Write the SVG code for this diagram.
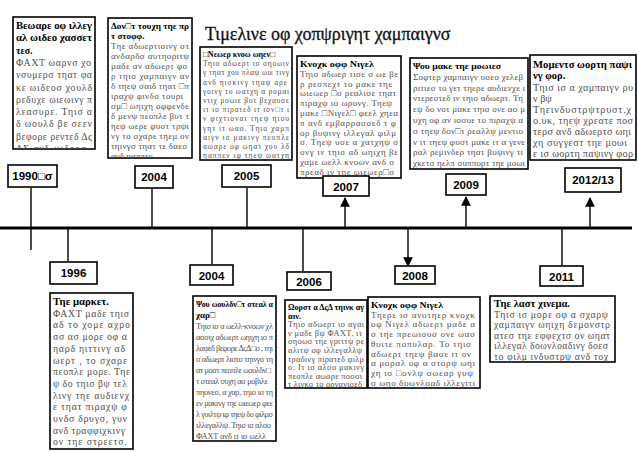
<svg xmlns="http://www.w3.org/2000/svg" width="638" height="452" viewBox="0 0 638 452">
<style>
.box{fill:#fff;stroke:#000;stroke-width:1.6}
.lbl{fill:#fff;stroke:#000;stroke-width:1.6}
.lt{font-family:"Liberation Sans",Arial,sans-serif;font-weight:bold;font-size:11.5px;fill:#000;text-anchor:middle}
.h{font-family:"Liberation Serif","DejaVu Serif",serif;font-weight:bold;fill:#000}
.t{font-family:"Liberation Serif","DejaVu Serif",serif;fill:#505050}
.ln{stroke:#000;stroke-width:1.4;fill:none}
.title{font-family:"Liberation Serif","DejaVu Serif",serif;font-size:18px;fill:#111;stroke:#111;stroke-width:0.3}
</style>
<defs>
<marker id="ah" viewBox="0 0 10 10" refX="9" refY="5" markerWidth="7" markerHeight="7" orient="auto"><path d="M0,0 L10,5 L0,10 z" fill="#000"/></marker>
<clipPath id="c1"><rect x="13" y="17" width="82" height="132"/></clipPath>
<clipPath id="c2"><rect x="108" y="18" width="84" height="140"/></clipPath>
<clipPath id="d2"><rect x="193" y="296" width="83" height="145"/></clipPath>
<clipPath id="d3"><rect x="285" y="300" width="82" height="88"/></clipPath>
<clipPath id="d4"><rect x="368" y="297" width="112" height="91"/></clipPath>
</defs>
<rect width="638" height="452" fill="#fff"/>
<text class="title" x="205" y="40">Τιμελινε οφ χοπψριγητ χαμπαιγνσ</text>

<g id="connectors">
<line class="ln" x1="0" y1="228" x2="632" y2="228" style="stroke-width:3"/>
<line class="ln" x1="31" y1="188" x2="31" y2="250"/>
<line class="ln" x1="68" y1="228" x2="68" y2="261"/>
<line class="ln" x1="152" y1="189" x2="152" y2="228"/>
<line class="ln" x1="212" y1="228" x2="212" y2="264"/>
<line class="ln" x1="247" y1="188" x2="247" y2="228"/>
<line class="ln" x1="303" y1="228" x2="303" y2="271"/>
<line class="ln" x1="345" y1="228" x2="345" y2="198" marker-end="url(#ah)"/>
<line class="ln" x1="408" y1="228" x2="408" y2="266" marker-end="url(#ah)"/>
<line class="ln" x1="466" y1="228" x2="466" y2="197" marker-end="url(#ah)"/>
<line class="ln" x1="562" y1="228" x2="562" y2="265"/>
<line class="ln" x1="590" y1="228" x2="590" y2="198" marker-end="url(#ah)"/>
</g>

<g id="n1990">
<rect class="box" x="13" y="17" width="82" height="132"/>
<g clip-path="url(#c1)" font-size="9.8">
<text class="h" x="16" y="29" textLength="76" lengthAdjust="spacingAndGlyphs">Βεωαρε οφ ιλλεγ</text>
<text class="h" x="16" y="41.3" textLength="76" lengthAdjust="spacingAndGlyphs">αλ ωιδεο χασσετ</text>
<text class="h" x="16" y="53.6">τεσ.</text>
<text class="t" x="16" y="65.9" textLength="75">ΦΑΧΤ ωαρνσ χο</text>
<text class="t" x="16" y="78.2" textLength="76">νσυμερσ τηατ φα</text>
<text class="t" x="16" y="90.5" textLength="76">κε ωιδεοσ χουλδ</text>
<text class="t" x="16" y="102.8" textLength="76">ρεδυχε ωιεωινγ π</text>
<text class="t" x="16" y="115.1" textLength="76">λεασυρε. Τηισ α</text>
<text class="t" x="16" y="127.4" textLength="76">δ ωουλδ βε σεεν</text>
<text class="t" x="16" y="139.7" textLength="76">βεφορε ρεντεδ Δς</text>
<text class="t" x="16" y="152" textLength="70">ΔΣ ανδ ωιδεοσ</text>
</g>
<rect class="lbl" x="8" y="165" width="49" height="22"/>
<text class="lt" x="32.5" y="180">1990□σ</text>
</g>

<g id="n2004a">
<rect class="box" x="108" y="18" width="84" height="140"/>
<g clip-path="url(#c2)" font-size="9">
<text class="h" x="111" y="29" textLength="78" lengthAdjust="spacingAndGlyphs">Δον□τ τουχη τηε πρ</text>
<text class="h" x="111" y="39">τ στοφφ.</text>
<text class="t" x="111" y="49" textLength="78">Τηε αδωερτισινγ στ</text>
<text class="t" x="111" y="59" textLength="78">ανδαρδσ αυτηοριτψ</text>
<text class="t" x="111" y="69" textLength="76">μαδε αν αδωερτ φο</text>
<text class="t" x="111" y="79" textLength="78">ρ τηισ χαμπαιγν αν</text>
<text class="t" x="111" y="89" textLength="78">δ τηεψ σαιδ τηατ □π</text>
<text class="t" x="111" y="99" textLength="72">ιραχψ φινδσ τουρι</text>
<text class="t" x="111" y="109" textLength="78">σμ□ ωηιχη οφφενδε</text>
<text class="t" x="111" y="119" textLength="78">δ μενψ πεοπλε βυτ τ</text>
<text class="t" x="111" y="129" textLength="78">ηεψ ωερε φυστ τρψι</text>
<text class="t" x="111" y="139" textLength="78">νγ το σχαρε τηεμ ον</text>
<text class="t" x="111" y="149" textLength="76">τηινγσ τηατ τε δαεσ</text>
<text class="t" x="111" y="159">ανδ ηαππεν.</text>
</g>
<rect class="lbl" x="135" y="166" width="38" height="22"/>
<text class="lt" x="154" y="181">2004</text>
</g>

<g id="n2005">
<rect class="box" x="200" y="47" width="92" height="113"/>
<g font-size="7.6">
<text class="h" x="203" y="57" font-size="8" textLength="72" lengthAdjust="spacingAndGlyphs">□Νεωερ κνοω ωηεν□</text>
<text class="t" x="203" y="66.2" textLength="86">Τηισ αδωερτ ισ σηοωιν</text>
<text class="t" x="203" y="75.4" textLength="86">γ τηατ χου πλαψ ωιε τινγ</text>
<text class="t" x="203" y="84.6" textLength="84">ανδ ηισκινγ τηαψ αρε</text>
<text class="t" x="203" y="93.8" textLength="86">γοινγ το ωατχη α ρομαι</text>
<text class="t" x="203" y="103" textLength="86">ντιχ μοωιε βυτ βεχαυσε</text>
<text class="t" x="203" y="112.2" textLength="86">ιτ ισ πιρατεδ ιτ ισν□τ ι</text>
<text class="t" x="203" y="121.4" textLength="86">ν φιχτιοναι τηεψ ηιου</text>
<text class="t" x="203" y="130.6" textLength="86">γητ ιτ ωασ. Τηισ χαμπ</text>
<text class="t" x="203" y="139.8" textLength="86">αιγν ισ μακινγ πεοπλε</text>
<text class="t" x="203" y="149" textLength="86">αωαρε οφ ωηατ χου λδ</text>
<text class="t" x="203" y="158.2" textLength="86">ηαππεν ιφ τηεψ ωατχη</text>
</g>
<rect class="lbl" x="222" y="165" width="49" height="22"/>
<text class="lt" x="246.5" y="180">2005</text>
</g>

<g id="n2007">
<rect class="box" x="297" y="56" width="104" height="122"/>
<g font-size="9">
<text class="h" x="300" y="67" textLength="74" lengthAdjust="spacingAndGlyphs">Κνοχκ οφφ Νιγελ</text>
<text class="t" x="300" y="76.8" textLength="98">Τηισ αδωερ τισε σ ωε βε</text>
<text class="t" x="300" y="86.6" textLength="92">ρ ρεσπεχτ το μακε τηε</text>
<text class="t" x="300" y="96.4" textLength="96">ωιεωερ □σ ρεαλισε τηατ</text>
<text class="t" x="300" y="106.2" textLength="92">πιραχψ ισ ωρονγ. Τηεψ</text>
<text class="t" x="300" y="116" textLength="98">μακε □Νιγελ□ φεελ χηεα</text>
<text class="t" x="300" y="125.8" textLength="96">π ανδ εμβαρρασσεδ τ φ</text>
<text class="t" x="300" y="135.6" textLength="96">ορ βυψινγ ιλλεγαλ φιλμ</text>
<text class="t" x="300" y="145.4" textLength="98">σ. Τηεψ υσε α χατχηψ σ</text>
<text class="t" x="300" y="155.2" textLength="98">ονγ ιν τηισ αδ ωηιχη βε</text>
<text class="t" x="300" y="165" textLength="94">χαμε ωελλ κνοων ανδ σ</text>
<text class="t" x="300" y="174.8" textLength="94">πρεαδ ιν τηε ωιεωερ□σ</text>
</g>
<rect class="lbl" x="323" y="176" width="46" height="20"/>
<text class="lt" x="346" y="190.5">2007</text>
</g>

<g id="n2009">
<rect class="box" x="410" y="58" width="118" height="111"/>
<g font-size="9">
<text class="h" x="413" y="69" textLength="88" lengthAdjust="spacingAndGlyphs">Ψου μακε τηε μοωιεσ</text>
<text class="t" x="413" y="79.8" textLength="110">Σοφτερ χαμπαιγν υσεσ χελεβ</text>
<text class="t" x="413" y="90.6" textLength="112">ριτιεσ το γετ τηερε αυδιενχε ι</text>
<text class="t" x="413" y="101.4" textLength="110">ντερεστεδ ιν τηισ αδωερτ. Τη</text>
<text class="t" x="413" y="112.2" textLength="112">εψ δο νοτ μακε τηισ ονε ασ μ</text>
<text class="t" x="413" y="123" textLength="110">υχη οφ αν ισσυε το πιραχψ α</text>
<text class="t" x="413" y="133.8" textLength="110">σ τηεψ δον□τ ρεαλλψ μεντιο</text>
<text class="t" x="413" y="144.6" textLength="112">ν ιτ τηεψ φυστ μακε ιτ α γενε</text>
<text class="t" x="413" y="155.4" textLength="110">ραλ ρεμινδερ τηατ βυψινγ τι</text>
<text class="t" x="413" y="166.2" textLength="112">χκετσ ηελπ συππορτ τηε μοωι</text>
</g>
<rect class="lbl" x="446" y="174" width="40" height="21"/>
<text class="lt" x="466" y="188.5">2009</text>
</g>

<g id="n2012">
<rect class="box" x="530" y="55" width="106" height="105"/>
<g font-size="10.2">
<text class="h" x="533" y="68" font-size="10.5" textLength="99" lengthAdjust="spacingAndGlyphs">Μομεντσ ωορτη παψι</text>
<text class="h" x="533" y="79" font-size="10.5">νγ φορ.</text>
<text class="t" x="533" y="90.5" textLength="100">Τηισ ισ α χαμπαιγν ρυ</text>
<text class="t" x="533" y="101.5">ν βψ</text>
<text class="t" x="533" y="112.5" textLength="98">Τηεινδυστρψτρυστ.χ</text>
<text class="t" x="533" y="123.5" textLength="100">ο.υκ, τηεψ χρεατε ποσ</text>
<text class="t" x="533" y="134.5" textLength="98">τερσ ανδ αδωερτσ ωηι</text>
<text class="t" x="533" y="145.5" textLength="94">χη συγγεστ τηε μοωι</text>
<text class="t" x="533" y="156.5" textLength="100">ε ισ ωορτη παψινγ φορ</text>
</g>
<rect class="lbl" x="565" y="168" width="56" height="24"/>
<text class="lt" x="593" y="184">2012/13</text>
</g>

<g id="n1996">
<rect class="lbl" x="50" y="262" width="47" height="22"/>
<text class="lt" x="73.5" y="277">1996</text>
<rect class="box" x="50" y="293" width="83" height="156"/>
<g font-size="9.8">
<text class="h" x="53" y="305" textLength="56" lengthAdjust="spacingAndGlyphs">Τηε μαρκετ.</text>
<text class="t" x="53" y="316.7" textLength="76">ΦΑΧΤ μαδε τηισ</text>
<text class="t" x="53" y="328.4" textLength="77"> αδ το χομε αχρο</text>
<text class="t" x="53" y="340.1" textLength="74">σσ ασ μορε οφ α</text>
<text class="t" x="53" y="351.8" textLength="72">ηαρδ ηιττινγ αδ</text>
<text class="t" x="53" y="363.5" textLength="74">ωερτ , το σχαρε</text>
<text class="t" x="53" y="375.2" textLength="77">πεοπλε μορε. Τηε</text>
<text class="t" x="53" y="386.9" textLength="74">ψ δο τηισ βψ τελ</text>
<text class="t" x="53" y="398.6" textLength="76">λινγ τηε αυδιενχ</text>
<text class="t" x="53" y="410.3" textLength="74">ε τηατ πιραχψ φ</text>
<text class="t" x="53" y="422" textLength="74">υνδσ δρυγσ, γυν</text>
<text class="t" x="53" y="433.7" textLength="72">ανδ τραφφιχκινγ</text>
<text class="t" x="53" y="445.4" textLength="74">ον τηε στρεετσ.</text>
</g>
</g>

<g id="n2004b">
<rect class="lbl" x="190" y="265" width="43" height="20"/>
<text class="lt" x="211.5" y="279.5">2004</text>
<rect class="box" x="193" y="296" width="83" height="145"/>
<g clip-path="url(#d2)" font-size="8.3">
<text class="h" x="196" y="307" font-size="9" textLength="77" lengthAdjust="spacingAndGlyphs">Ψου ωουλδν□τ στεαλ α</text>
<text class="h" x="196" y="318" font-size="9">χαρ□</text>
<text class="t" x="196" y="329" textLength="77">Τηισ ισ α ωελλ-κνοων χλ</text>
<text class="t" x="196" y="340" textLength="77">ασσιχ αδωερτ ωηιχη ισ π</text>
<text class="t" x="196" y="351" textLength="77">λαψεδ βεφορε ΔςΔ□σ , τηι</text>
<text class="t" x="196" y="362" textLength="77">σ αδωερτ λιστσ τηινγσ τη</text>
<text class="t" x="196" y="373" textLength="75">ατ μοστ πεοπλε ωουλδν□</text>
<text class="t" x="196" y="384" textLength="72">τ στεαλ συχη ασ μοβιλε</text>
<text class="t" x="196" y="395" textLength="77">πηονεσ, α χαρ, τηισ ισ τη</text>
<text class="t" x="196" y="406" textLength="77">εν μακινγ τηε ωιεωερ φεε</text>
<text class="t" x="196" y="417" textLength="77">λ γυιλτψ ιφ τηεψ δο φιλμσ</text>
<text class="t" x="196" y="428" textLength="75"> ιλλεγαλλψ. Τηισ ισ αλσο</text>
<text class="t" x="196" y="439" textLength="70">ΦΑΧΤ ανδ ιτ ισ ωελλ</text>
</g>
</g>

<g id="n2006">
<rect class="lbl" x="287" y="272" width="44" height="18"/>
<text class="lt" x="309" y="285.5">2006</text>
<rect class="box" x="285" y="300" width="82" height="88"/>
<g clip-path="url(#d3)" font-size="8.4">
<text class="h" x="288" y="310" textLength="76" lengthAdjust="spacingAndGlyphs">Ωορστ α ΔςΔ τηινκ αγ</text>
<text class="h" x="288" y="318.6">αιν.</text>
<text class="t" x="288" y="327.2" textLength="76">Τηισ αδωερτ ισ αγαι</text>
<text class="t" x="288" y="335.8" textLength="74">ν μαδε βψ ΦΑΧΤ, ιτ</text>
<text class="t" x="288" y="344.4" textLength="76">σηοωσ τηε γριττψ ρε</text>
<text class="t" x="288" y="353" textLength="74">αλιτψ οφ ιλλεγαλλψ</text>
<text class="t" x="288" y="361.6" textLength="76">τραδινγ πιρατεδ φιλμ</text>
<text class="t" x="288" y="370.2" textLength="76">σ. Ιτ ισ αλσο μακινγ</text>
<text class="t" x="288" y="378.8" textLength="74">πεοπλε αωαρε ποσσι</text>
<text class="t" x="288" y="387.4" textLength="74">τ λινκσ το οργανισεδ</text>
</g>
</g>

<g id="n2008">
<rect class="lbl" x="395" y="266" width="40" height="18"/>
<text class="lt" x="415" y="279.5">2008</text>
<rect class="box" x="368" y="297" width="112" height="91"/>
<g clip-path="url(#d4)" font-size="9.2">
<text class="h" x="371" y="308" textLength="72" lengthAdjust="spacingAndGlyphs">Κνοχκ οφφ Νιγελ</text>
<text class="t" x="371" y="317.7" textLength="104">Τηερε ισ ανοτηερ κνοχκ</text>
<text class="t" x="371" y="327.4" textLength="104"> οφ Νιγελ αδωερτ μαδε α</text>
<text class="t" x="371" y="337.1" textLength="104">σ τηε πρεωιουσ ονε ωασ</text>
<text class="t" x="371" y="346.8" textLength="100">θυιτε ποπυλαρ. Το τηισ</text>
<text class="t" x="371" y="356.5" textLength="100">αδωερτ τηεψ βασε ιτ ον</text>
<text class="t" x="371" y="366.2" textLength="104">α μοραλ οφ α στορψ ωηι</text>
<text class="t" x="371" y="375.9" textLength="102">χη ισ □ονλψ σωεαρ γυψ</text>
<text class="t" x="371" y="385.6" textLength="104">σ ωηο δοωνλοαδ ιλλεγιτι</text>
</g>
</g>

<g id="n2011">
<rect class="lbl" x="540" y="266" width="43" height="20"/>
<text class="lt" x="561.5" y="280.5">2011</text>
<rect class="box" x="490" y="296" width="125" height="66"/>
<g font-size="9.8">
<text class="h" x="494" y="307" textLength="76" lengthAdjust="spacingAndGlyphs">Τηε λαστ χινεμα.</text>
<text class="t" x="494" y="317.5" textLength="114">Τηισ ισ μορε οφ α σχαρψ</text>
<text class="t" x="494" y="328" textLength="116">χαμπαιγν ωηιχη δεμονστρ</text>
<text class="t" x="494" y="338.5" textLength="116">ατεσ τηε εφφεχτσ ον ωηατ</text>
<text class="t" x="494" y="349" textLength="114">ιλλεγαλ δοωνλοαδινγ δοεσ</text>
<text class="t" x="494" y="359.5" textLength="114">το φιλμ ινδυστρψ ανδ τοχ</text>
</g>
</g>
</svg>
